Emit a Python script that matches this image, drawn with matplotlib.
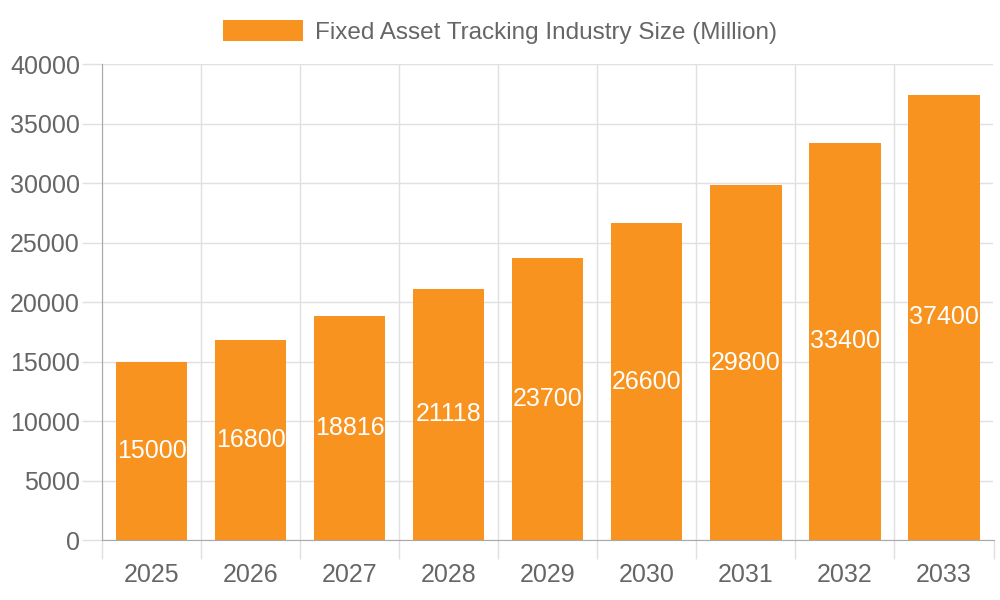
import matplotlib.pyplot as plt
import numpy as np

years = ["2025", "2026", "2027", "2028", "2029", "2030", "2031", "2032", "2033"]
sizes = [15000, 16800, 18816, 21118, 23700, 26600, 29800, 33400, 37400]
series_name = "Fixed Asset Tracking Industry Size (Million)"

plt.rcParams['font.family'] = ['Liberation Sans', 'DejaVu Sans']

orange = '#F7931E'
text_grey = '#666666'
grid_grey = '#e0e0e0'
axis_grey = '#a8a8a8'

fig = plt.figure(figsize=(10, 6), dpi=100)
ax = fig.add_axes([0.102, 0.1, 0.8915, 0.7933])

x = np.arange(len(years))
bars = ax.bar(x, sizes, width=0.72, color=orange, label=series_name, zorder=3)

# value labels in the middle of each bar
for xi, v in zip(x, sizes):
    ax.text(xi, v / 2, str(v), ha='center', va='center', color='white',
            fontsize=18, zorder=4)

ax.set_xlim(-0.5, len(years) - 0.5)
ax.set_ylim(0, 40000)
ax.set_yticks(np.arange(0, 40001, 5000))

# category labels at centres, gridlines at boundaries
ax.set_xticks(x)
ax.set_xticklabels(years)
ax.set_xticks(np.arange(-0.5, len(years), 1.0), minor=True)
ax.tick_params(axis='x', which='major', length=0, pad=16.5, labelsize=18, labelcolor=text_grey)
ax.tick_params(axis='x', which='minor', length=14, color=grid_grey, width=1)
ax.tick_params(axis='y', length=14.4, color=grid_grey, width=1, pad=1.5,
               labelsize=18, labelcolor=text_grey)

ax.grid(axis='x', which='minor', color=grid_grey, linewidth=1, zorder=0)
ax.grid(axis='y', which='major', color=grid_grey, linewidth=1, zorder=0)

ax.spines['top'].set_visible(False)
ax.spines['right'].set_visible(False)
ax.spines['left'].set_color(axis_grey)
ax.spines['bottom'].set_color(axis_grey)
ax.spines['left'].set_zorder(5)
ax.spines['bottom'].set_zorder(5)

fig.legend(handles=[bars], labels=[series_name], loc='center',
           bbox_to_anchor=(0.5, 1 - 32 / 600), frameon=False, fontsize=17.5,
           handlelength=3.29, handleheight=0.98, handletextpad=0.5,
           labelcolor=text_grey)

plt.savefig('out.png')
